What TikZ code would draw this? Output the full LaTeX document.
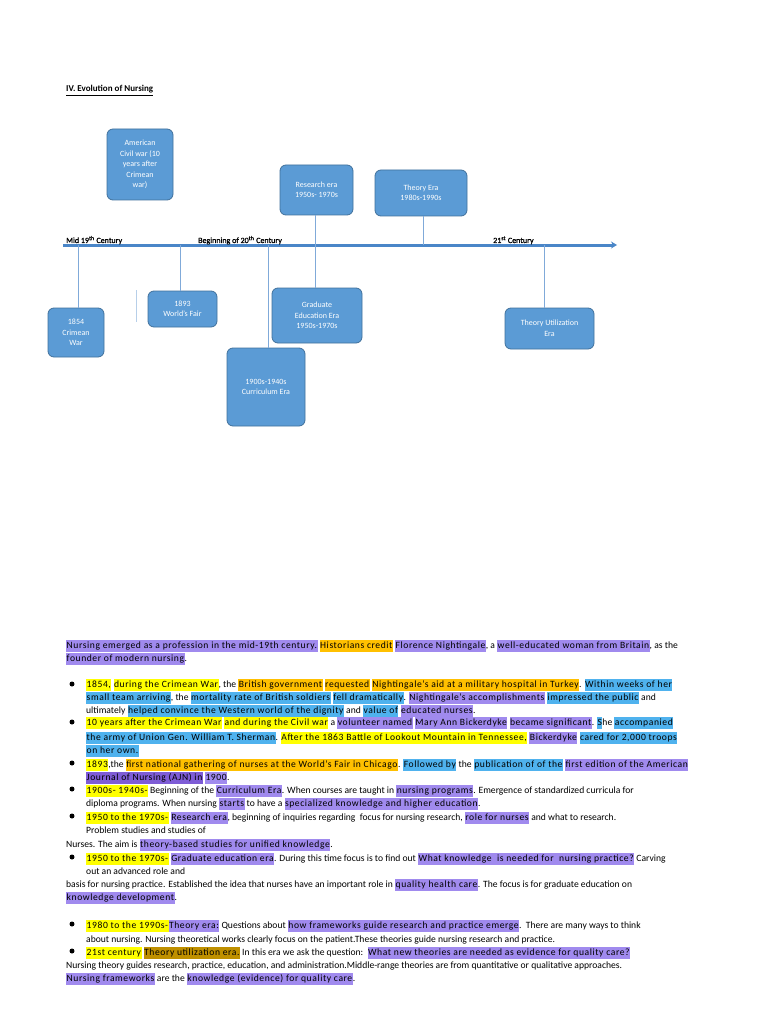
\documentclass[tikz,border=0pt]{standalone}
\usetikzlibrary{arrows.meta}
\usepackage{fontspec}
\setmainfont{Carlito}
\usepackage{xcolor}
\definecolor{hyel}{HTML}{FFFF00}
\definecolor{hgold}{HTML}{FFC000}
\definecolor{hblue}{HTML}{4FB2EE}
\definecolor{hpur}{HTML}{A08AEE}
\definecolor{hdpur}{HTML}{7E5CD6}
\definecolor{hkh}{HTML}{BF9000}
\definecolor{boxfill}{HTML}{5B9BD5}
\definecolor{boxline}{HTML}{41719C}
\definecolor{tl}{HTML}{4A86C8}
\setlength\fboxsep{0.5pt}
\newcommand\hlx[2]{\colorbox{#1}{\strut\addfontfeature{LetterSpace=6}#2}}
\newcommand\hy[1]{\hlx{hyel}{#1}}
\newcommand\ho[1]{\hlx{hgold}{#1}}
\newcommand\hb[1]{\hlx{hblue}{#1}}
\newcommand\hp[1]{\hlx{hpur}{#1}}
\newcommand\hd[1]{\hlx{hdpur}{#1}}
\newcommand\hk[1]{\hlx{hkh}{#1}}
\begin{document}
\begin{tikzpicture}[x=1pt,y=-1pt,
  txt/.style={anchor=base west,inner sep=0pt,font=\fontsize{9.6}{11}\selectfont},
  bul/.style={circle,fill=black,inner sep=0pt,minimum size=5pt},
  evt/.style={draw=boxline,line width=0.8pt,fill=boxfill,rounded corners=6pt,text=white,align=center,font=\fontsize{8}{10.5}\selectfont,inner sep=2pt},
  tick/.style={draw=tl!70,line width=0.7pt},
  lab/.style={anchor=base west,inner sep=0pt,font=\fontsize{8}{9}\selectfont\addfontfeature{FakeBold=1.2}}]
\useasboundingbox[fill=white] (0,0) rectangle (768,1024);
\node[anchor=base west,inner sep=0pt,font=\bfseries\fontsize{9}{10}\selectfont] (title) at (66,92) {\underline{IV. Evolution of Nursing}};
% timeline
\coordinate (ts) at (63,245); \coordinate (te) at (617,245);
\draw[tl,line width=3pt,-{Stealth[length=6pt,width=7pt]}] (ts) -- (te);
\node[lab] (l1) at (66,243) {Mid 19\textsuperscript{th} Century};
\node[lab] (l2) at (198,243) {Beginning of 20\textsuperscript{th} Century};
\node[lab] (l3) at (493,243) {21\textsuperscript{st} Century};
% boxes
\node[evt,minimum width=66pt,minimum height=71pt] (civ) at (140,164.5) {American\\Civil war (10\\years after\\Crimean\\war)};
\node[evt,minimum width=73pt,minimum height=50pt] (res) at (316.5,190) {Research era\\1950s- 1970s};
\node[evt,minimum width=92pt,minimum height=46pt] (the) at (421,193) {Theory Era\\1980s-1990s};
\node[evt,minimum width=56pt,minimum height=49pt] (cri) at (76,332.5) {1854\\Crimean\\War};
\node[evt,minimum width=69pt,minimum height=36pt] (wf) at (182.5,309) {1893\\World's Fair};
\node[evt,minimum width=90pt,minimum height=55pt] (gra) at (317,315.5) {Graduate\\Education Era\\1950s-1970s};
\node[evt,minimum width=78pt,minimum height=78pt] (cur) at (266,387) {1900s-1940s\\Curriculum Era};
\node[evt,minimum width=89pt,minimum height=41pt] (tue) at (549.5,328.5) {Theory Utilization\\Era};
% connectors
\draw[tick] (res.south -| 315,0) -- (gra.north -| 315,0);
\draw[tick] (the.south -| 423,0) -- (423,245);
\draw[tick] (78,245) -- (cri.north -| 78,0);
\draw[tick] (180,245) -- (wf.north -| 180,0);
\draw[tick] (268,245) -- (cur.north -| 268,0);
\draw[tick] (544,245) -- (tue.north -| 544,0);
\draw[tick,draw=tl!40] (136,290) -- (136,322);
% text
\node[txt] (p1) at (66,648) {\hp{Nursing emerged as a profession in the mid-19th century.} \ho{Historians credit} \hp{Florence Nightingale}, a \hp{well-educated woman from Britain}, as the};
\node[txt] (p2) at (66,661) {\hp{founder of modern nursing}.};
\node[bul] (b1) at (72,684) {};
\node[txt] (t1a) at (86,687) {\hy{1854,} \hy{during the Crimean War}, the \ho{British government} \ho{requested} \ho{Nightingale’s aid at a military hospital in Turkey}. \hb{Within weeks of her}};
\node[txt] (t1b) at (86,700) {\hb{small team arriving}, the \hb{mortality rate of British soldiers} \hb{fell dramatically}. \hp{Nightingale’s accomplishments} \hb{impressed the public} and};
\node[txt] (t1c) at (86,713) {ultimately \hb{helped convince the Western world of the dignity} and \hb{value of} \hp{educated nurses}.};
\node[bul] (b2) at (72,722) {};
\node[txt] (t2a) at (86,725) {\hy{10 years after the Crimean War} \hy{and during the Civil war} a \hp{volunteer named} \hp{Mary Ann Bickerdyke} \hp{became significant}. \hb{S}he \hb{accompanied}};
\node[txt] (t2b) at (86,740) {\hb{the army of Union Gen. William T. Sherman}. \hy{After the 1863 Battle of Lookout Mountain in Tennessee,} \hp{Bickerdyke} \hb{cared for 2,000 troops}};
\node[txt] (t2c) at (86,753) {\hb{on her own.}};
\node[bul] (b3) at (72,763) {};
\node[txt] (t3a) at (86,767) {\hy{1893},the \ho{first national gathering of nurses at the World’s Fair in Chicago}. \hb{Followed by} the \hb{publication of of the} \hp{first edition of the American}};
\node[txt] (t3b) at (86,780) {\hd{Journal of Nursing (AJN) in} \hp{1900}.};
\node[bul] (b4) at (72,789) {};
\node[txt] (t4a) at (86,793) {\hy{1900s- 1940s-} Beginning of the \hp{Curriculum Era}. When courses are taught in \hp{nursing programs}. Emergence of standardized curricula for};
\node[txt] (t4b) at (86,806) {diploma programs. When nursing \hp{starts} to have a \hp{specialized knowledge and higher education}.};
\node[bul] (b5) at (72,816) {};
\node[txt] (t5a) at (86,820) {\hy{1950 to the 1970s-} \hp{Research era}, beginning of inquiries regarding\ \ focus for nursing research, \hp{role for nurses} and what to research.};
\node[txt] (t5b) at (86,833) {Problem studies and studies of};
\node[txt] (t5c) at (66,847) {Nurses. The aim is \hp{theory-based studies for unified knowledge}.};
\node[bul] (b6) at (72,857) {};
\node[txt] (t6a) at (86,861) {\hy{1950 to the 1970s-} \hp{Graduate education era}. During this time focus is to find out \hp{What knowledge\ \ is needed for\ \ nursing practice?} Carving};
\node[txt] (t6b) at (86,874) {out an advanced role and};
\node[txt] (t6c) at (66,887) {basis for nursing practice. Established the idea that nurses have an important role in \hp{quality health care}. The focus is for graduate education on};
\node[txt] (t6d) at (66,900) {\hp{knowledge development}.};
\node[bul] (b7) at (72,924) {};
\node[txt] (t7a) at (86,928) {\hy{1980 to the 1990s-}\hp{ Theory era:} Questions about \hp{how frameworks guide research and practice emerge}.\ \ There are many ways to think};
\node[txt] (t7b) at (86,942) {about nursing. Nursing theoretical works clearly focus on the patient.These theories guide nursing research and practice.};
\node[bul] (b8) at (72,951) {};
\node[txt] (t8a) at (86,955) {\hy{21st century} \hk{Theory utilization era.} In this era we ask the question:\ \ \hp{What new theories are needed as evidence for quality care?}};
\node[txt] (t8b) at (66,968) {Nursing theory guides research, practice, education, and administration.Middle-range theories are from quantitative or qualitative approaches.};
\node[txt] (t8c) at (66,981) {\hp{Nursing frameworks} are the \hp{knowledge (evidence) for quality care}.};
\end{tikzpicture}
\end{document}
